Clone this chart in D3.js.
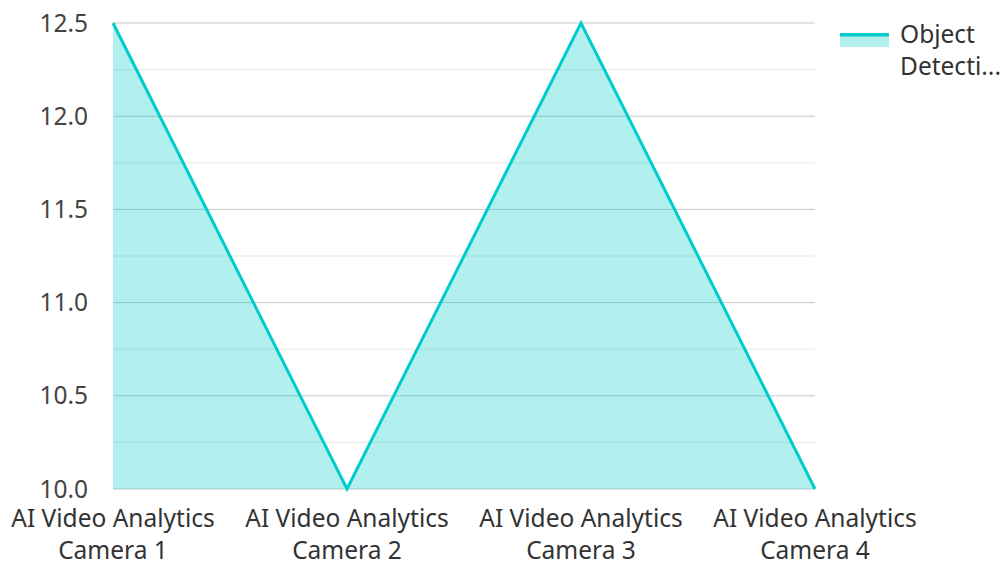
<!DOCTYPE html>
<html><head><meta charset="utf-8">
<script src="https://cdn.jsdelivr.net/npm/d3@7"></script>
<style>body{margin:0;background:#fff;}svg{display:block;font-family:"Noto Sans",sans-serif;}</style>
</head><body><svg id="c" width="1002" height="562"></svg>
<script>
const categories = [["AI Video Analytics","Camera 1"],["AI Video Analytics","Camera 2"],["AI Video Analytics","Camera 3"],["AI Video Analytics","Camera 4"]];
const values = [12.5, 10.0, 12.5, 10.0];
const seriesName = ["Object","Detecti..."];
const yTicks = [10.0, 10.5, 11.0, 11.5, 12.0, 12.5];
const yMinor = [10.25, 10.75, 11.25, 11.75, 12.25];

const svg = d3.select("#c");
const L = 113, R = 815, T = 23, B = 489;
const x = d3.scalePoint().domain(d3.range(categories.length)).range([L, R]);
const y = d3.scaleLinear().domain([10, 12.5]).range([B, T]);
const col = "#00cccc";
const fs = 24.5;

svg.append("g").selectAll("line").data(yMinor).join("line")
  .attr("x1", L).attr("x2", R).attr("y1", d => y(d)).attr("y2", d => y(d))
  .attr("stroke", "#e6e6e6").attr("stroke-width", 1);
svg.append("g").selectAll("line").data(yTicks).join("line")
  .attr("x1", L).attr("x2", R).attr("y1", d => y(d)).attr("y2", d => y(d))
  .attr("stroke", "#c8c8c8").attr("stroke-width", 1);

svg.append("path").datum(values)
  .attr("d", d3.area().x((d, i) => x(i)).y0(y(10)).y1(d => y(d)))
  .attr("fill", col).attr("fill-opacity", 0.3);
svg.append("path").datum(values)
  .attr("d", d3.line().x((d, i) => x(i)).y(d => y(d)))
  .attr("fill", "none").attr("stroke", col).attr("stroke-width", 3).attr("stroke-linejoin", "miter");

svg.append("g").selectAll("text").data(yTicks).join("text")
  .attr("x", 88).attr("y", d => y(d)).attr("dy", "0.35em")
  .attr("text-anchor", "end").attr("font-size", fs).attr("fill", "#444")
  .text(d => d3.format(".1f")(d));

const xl = svg.append("g").selectAll("text").data(categories).join("text")
  .attr("text-anchor", "middle").attr("font-size", fs).attr("fill", "#333");
xl.each(function(d, i) {
  d3.select(this).selectAll("tspan").data(d).join("tspan")
    .attr("x", x(i)).attr("y", (t, j) => 527 + j * 32).text(t => t);
});

const lg = svg.append("g");
lg.append("rect").attr("x", 840).attr("y", 33).attr("width", 49).attr("height", 14)
  .attr("fill", col).attr("fill-opacity", 0.3);
lg.append("rect").attr("x", 840).attr("y", 33).attr("width", 49).attr("height", 3.5).attr("fill", col);
lg.append("text").attr("font-size", fs).attr("fill", "#333").selectAll("tspan").data(seriesName).join("tspan")
  .attr("x", 900).attr("y", (t, j) => 43 + j * 32).text(t => t);
</script></body></html>
